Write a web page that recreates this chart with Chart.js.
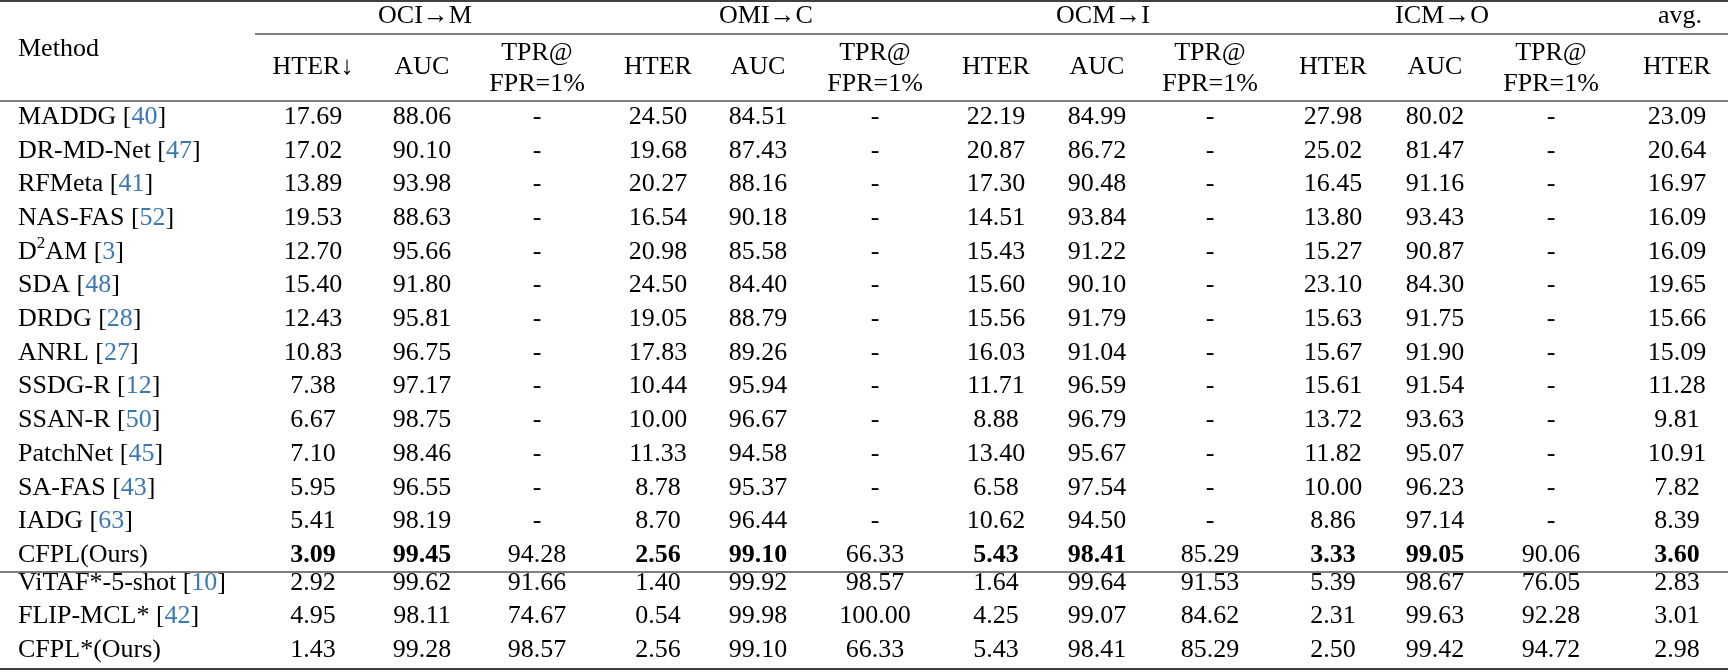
<!DOCTYPE html>
<html>
<head>
<meta charset="utf-8">
<script src="https://cdn.jsdelivr.net/npm/chart.js@4"></script>
<style>
  html, body { margin: 0; padding: 0; background: #fff; }
  #wrap { width: 1728px; height: 672px; }
</style>
</head>
<body>
<div id="wrap"><canvas id="c"></canvas></div>
<script>
// table data
const methods = ['MADDG', 'DR-MD-Net', 'RFMeta', 'NAS-FAS', 'D2AM', 'SDA', 'DRDG', 'ANRL', 'SSDG-R',
  'SSAN-R', 'PatchNet', 'SA-FAS', 'IADG', 'CFPL(Ours)', 'ViTAF*-5-shot', 'FLIP-MCL*', 'CFPL*(Ours)'];
const cites = ['40', '47', '41', '52', '3', '48', '28', '27', '12', '50', '45', '43', '63', '', '10', '42', ''];

const groups = ['OCI\u2192M', 'OMI\u2192C', 'OCM\u2192I', 'ICM\u2192O', 'avg.'];
const subHeads = ['HTER\u2193', 'AUC', 'TPR@|FPR=1%', 'HTER', 'AUC', 'TPR@|FPR=1%', 'HTER', 'AUC', 'TPR@|FPR=1%',
  'HTER', 'AUC', 'TPR@|FPR=1%', 'HTER'];

const hterM = ['17.69','17.02','13.89','19.53','12.70','15.40','12.43','10.83','7.38','6.67','7.10','5.95','5.41','3.09','2.92','4.95','1.43'];
const aucM  = ['88.06','90.10','93.98','88.63','95.66','91.80','95.81','96.75','97.17','98.75','98.46','96.55','98.19','99.45','99.62','98.11','99.28'];
const tprM  = ['-','-','-','-','-','-','-','-','-','-','-','-','-','94.28','91.66','74.67','98.57'];
const hterC = ['24.50','19.68','20.27','16.54','20.98','24.50','19.05','17.83','10.44','10.00','11.33','8.78','8.70','2.56','1.40','0.54','2.56'];
const aucC  = ['84.51','87.43','88.16','90.18','85.58','84.40','88.79','89.26','95.94','96.67','94.58','95.37','96.44','99.10','99.92','99.98','99.10'];
const tprC  = ['-','-','-','-','-','-','-','-','-','-','-','-','-','66.33','98.57','100.00','66.33'];
const hterI = ['22.19','20.87','17.30','14.51','15.43','15.60','15.56','16.03','11.71','8.88','13.40','6.58','10.62','5.43','1.64','4.25','5.43'];
const aucI  = ['84.99','86.72','90.48','93.84','91.22','90.10','91.79','91.04','96.59','96.79','95.67','97.54','94.50','98.41','99.64','99.07','98.41'];
const tprI  = ['-','-','-','-','-','-','-','-','-','-','-','-','-','85.29','91.53','84.62','85.29'];
const hterO = ['27.98','25.02','16.45','13.80','15.27','23.10','15.63','15.67','15.61','13.72','11.82','10.00','8.86','3.33','5.39','2.31','2.50'];
const aucO  = ['80.02','81.47','91.16','93.43','90.87','84.30','91.75','91.90','91.54','93.63','95.07','96.23','97.14','99.05','98.67','99.63','99.42'];
const tprO  = ['-','-','-','-','-','-','-','-','-','-','-','-','-','90.06','76.05','92.28','94.72'];
const hterAvg = ['23.09','20.64','16.97','16.09','16.09','19.65','15.66','15.09','11.28','9.81','10.91','7.82','8.39','3.60','2.83','3.01','2.98'];

const columns = [hterM, aucM, tprM, hterC, aucC, tprC, hterI, aucI, tprI, hterO, aucO, tprO, hterAvg];
// bold cells: CFPL(Ours) row, HTER/AUC columns
const boldRow = 13;
const boldCols = [0, 1, 3, 4, 6, 7, 9, 10, 12];

// layout (pixels)
const colX = [313, 422, 537, 658, 758, 875, 996, 1097, 1210, 1333, 1435, 1551, 1677];
const groupX = [425, 766, 1103, 1442, 1680];
const rowY = i => i < 14 ? 117 + i * 33.7 : 583 + (i - 14) * 33.5;
const FONT = '"Liberation Serif", "DejaVu Serif", serif';
const FS = 26;

const datasets = columns.map((col, c) => ({
  label: subHeads[c],
  data: col.map((v, i) => ({ x: colX[c], y: rowY(i), t: v })),
  pointRadius: 0,
  showLine: false
}));

const tablePlugin = {
  id: 'table',
  afterDatasetsDraw(chart) {
    const ctx = chart.ctx;
    const xs = chart.scales.x, ys = chart.scales.y;
    ctx.save();
    ctx.fillStyle = '#000';
    ctx.textBaseline = 'middle';

    // rules
    const hline = (y, x0, x1, w) => {
      ctx.beginPath();
      ctx.lineWidth = w;
      ctx.strokeStyle = '#000';
      ctx.moveTo(xs.getPixelForValue(x0), ys.getPixelForValue(y));
      ctx.lineTo(xs.getPixelForValue(x1), ys.getPixelForValue(y));
      ctx.stroke();
    };
    hline(1, 0, 1728, 1.5);
    hline(34, 255, 1728, 1.2);
    hline(101, 0, 1728, 1.2);
    hline(572, 0, 1728, 1.2);
    hline(669, 0, 1728, 1.5);

    // header
    ctx.font = FS + 'px ' + FONT;
    ctx.textAlign = 'center';
    groups.forEach((g, i) => ctx.fillText(g, xs.getPixelForValue(groupX[i]), ys.getPixelForValue(16)));
    ctx.textAlign = 'left';
    ctx.fillText('Method', xs.getPixelForValue(18), ys.getPixelForValue(49));
    ctx.textAlign = 'center';
    subHeads.forEach((h, c) => {
      const x = xs.getPixelForValue(colX[c]);
      const parts = h.split('|');
      if (parts.length === 2) {
        ctx.fillText(parts[0], x, ys.getPixelForValue(53));
        ctx.fillText(parts[1], x, ys.getPixelForValue(84));
      } else {
        ctx.fillText(h, x, ys.getPixelForValue(67));
      }
    });

    // cells
    chart.data.datasets.forEach((ds, c) => {
      const meta = chart.getDatasetMeta(c);
      meta.data.forEach((pt, i) => {
        const bold = i === boldRow && boldCols.includes(c);
        ctx.font = (bold ? 'bold ' : '') + FS + 'px ' + FONT;
        ctx.textAlign = 'center';
        ctx.fillText(ds.data[i].t, pt.x, pt.y);
      });
    });

    // method names
    ctx.textAlign = 'left';
    methods.forEach((m, i) => {
      let x = xs.getPixelForValue(18);
      const y = ys.getPixelForValue(rowY(i));
      ctx.font = FS + 'px ' + FONT;
      ctx.fillStyle = '#000';
      if (m === 'D2AM') {
        ctx.fillText('D', x, y); x += ctx.measureText('D').width;
        ctx.font = Math.round(FS * 0.65) + 'px ' + FONT;
        ctx.fillText('2', x, y - 8); x += ctx.measureText('2').width;
        ctx.font = FS + 'px ' + FONT;
        ctx.fillText('AM', x, y); x += ctx.measureText('AM').width;
      } else {
        ctx.fillText(m, x, y); x += ctx.measureText(m).width;
      }
      if (cites[i]) {
        ctx.fillText(' [', x, y); x += ctx.measureText(' [').width;
        ctx.fillStyle = '#3b78b5';
        ctx.fillText(cites[i], x, y); x += ctx.measureText(cites[i]).width;
        ctx.fillStyle = '#000';
        ctx.fillText(']', x, y);
      }
    });
    ctx.restore();
  }
};

new Chart(document.getElementById('c'), {
  type: 'scatter',
  data: { datasets },
  options: {
    responsive: true,
    maintainAspectRatio: false,
    animation: false,
    layout: { padding: 0 },
    plugins: { legend: { display: false }, tooltip: { enabled: false } },
    scales: {
      x: { type: 'linear', min: 0, max: 1728, display: false },
      y: { type: 'linear', min: 0, max: 672, reverse: true, display: false }
    }
  },
  plugins: [tablePlugin]
});
</script>
</body>
</html>
